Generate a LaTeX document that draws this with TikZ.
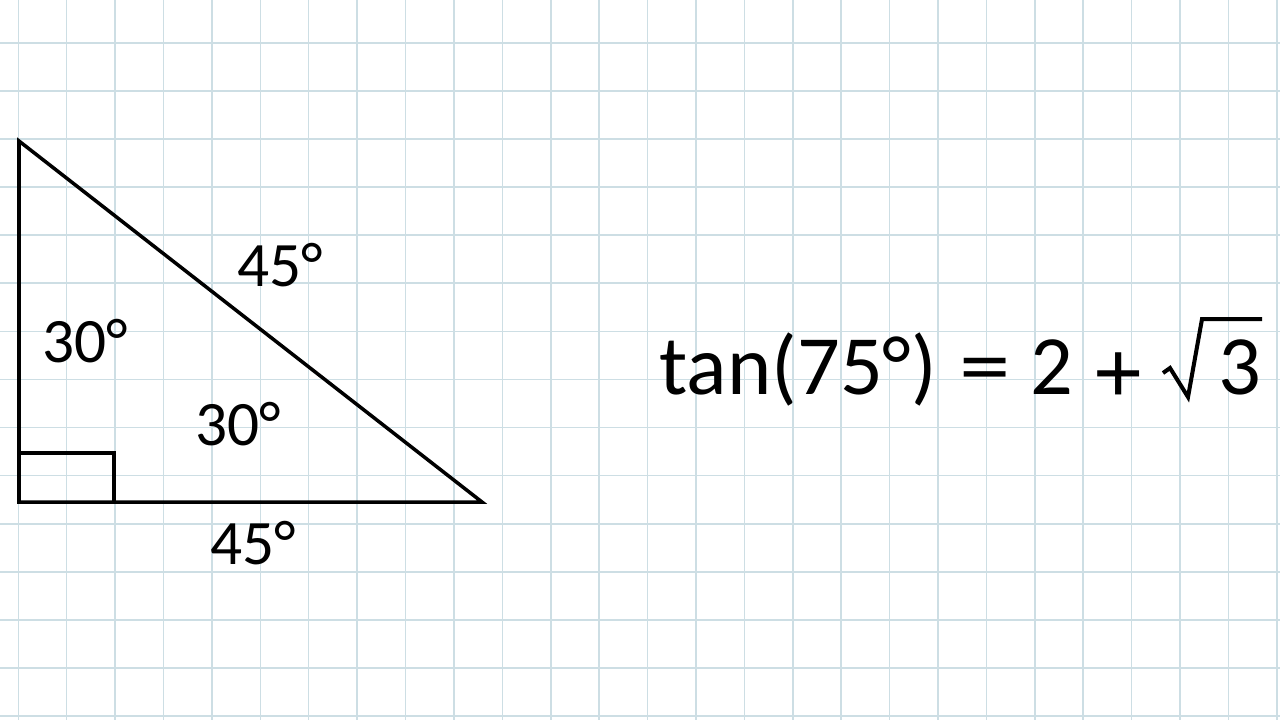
\documentclass[tikz,border=0pt]{standalone}
\usepackage{fontspec}
\setmainfont{Carlito}
\newfontfamily\plusfont{Liberation Sans}
\definecolor{paper}{RGB}{205,222,228}
\tikzset{
  gridline/.style = {color=paper, line width=0.45pt},
  edge/.style = {black, line width=1pt, line join=miter},
  angle/.style = {anchor=base, inner sep=0pt, font=\fontsize{18}{20}\selectfont},
  formula/.style = {anchor=base, inner sep=0pt, font=\fontsize{24}{27}\selectfont}
}

\begin{document}
\begin{tikzpicture}[x=0.01cm, y=-0.01cm]
	\def \gx{48.4}
	\def \gy{48.1}
	\def \ox{18.3}
	\def \oy{42.7}

	\useasboundingbox (0,0) rectangle (1280,720);
	\fill[white] (0,0) rectangle (1280,720);

	% Grid, vertical
	\draw[gridline] (\ox+0*\gx,0) -- (\ox+0*\gx,720);
	\draw[gridline] (\ox+1*\gx,0) -- (\ox+1*\gx,720);
	\draw[gridline] (\ox+2*\gx,0) -- (\ox+2*\gx,720);
	\draw[gridline] (\ox+3*\gx,0) -- (\ox+3*\gx,720);
	\draw[gridline] (\ox+4*\gx,0) -- (\ox+4*\gx,720);
	\draw[gridline] (\ox+5*\gx,0) -- (\ox+5*\gx,720);
	\draw[gridline] (\ox+6*\gx,0) -- (\ox+6*\gx,720);
	\draw[gridline] (\ox+7*\gx,0) -- (\ox+7*\gx,720);
	\draw[gridline] (\ox+8*\gx,0) -- (\ox+8*\gx,720);
	\draw[gridline] (\ox+9*\gx,0) -- (\ox+9*\gx,720);
	\draw[gridline] (\ox+10*\gx,0) -- (\ox+10*\gx,720);
	\draw[gridline] (\ox+11*\gx,0) -- (\ox+11*\gx,720);
	\draw[gridline] (\ox+12*\gx,0) -- (\ox+12*\gx,720);
	\draw[gridline] (\ox+13*\gx,0) -- (\ox+13*\gx,720);
	\draw[gridline] (\ox+14*\gx,0) -- (\ox+14*\gx,720);
	\draw[gridline] (\ox+15*\gx,0) -- (\ox+15*\gx,720);
	\draw[gridline] (\ox+16*\gx,0) -- (\ox+16*\gx,720);
	\draw[gridline] (\ox+17*\gx,0) -- (\ox+17*\gx,720);
	\draw[gridline] (\ox+18*\gx,0) -- (\ox+18*\gx,720);
	\draw[gridline] (\ox+19*\gx,0) -- (\ox+19*\gx,720);
	\draw[gridline] (\ox+20*\gx,0) -- (\ox+20*\gx,720);
	\draw[gridline] (\ox+21*\gx,0) -- (\ox+21*\gx,720);
	\draw[gridline] (\ox+22*\gx,0) -- (\ox+22*\gx,720);
	\draw[gridline] (\ox+23*\gx,0) -- (\ox+23*\gx,720);
	\draw[gridline] (\ox+24*\gx,0) -- (\ox+24*\gx,720);
	\draw[gridline] (\ox+25*\gx,0) -- (\ox+25*\gx,720);
	\draw[gridline] (\ox+26*\gx,0) -- (\ox+26*\gx,720);

	% Grid, horizontal
	\draw[gridline] (0,\oy+0*\gy) -- (1280,\oy+0*\gy);
	\draw[gridline] (0,\oy+1*\gy) -- (1280,\oy+1*\gy);
	\draw[gridline] (0,\oy+2*\gy) -- (1280,\oy+2*\gy);
	\draw[gridline] (0,\oy+3*\gy) -- (1280,\oy+3*\gy);
	\draw[gridline] (0,\oy+4*\gy) -- (1280,\oy+4*\gy);
	\draw[gridline] (0,\oy+5*\gy) -- (1280,\oy+5*\gy);
	\draw[gridline] (0,\oy+6*\gy) -- (1280,\oy+6*\gy);
	\draw[gridline] (0,\oy+7*\gy) -- (1280,\oy+7*\gy);
	\draw[gridline] (0,\oy+8*\gy) -- (1280,\oy+8*\gy);
	\draw[gridline] (0,\oy+9*\gy) -- (1280,\oy+9*\gy);
	\draw[gridline] (0,\oy+10*\gy) -- (1280,\oy+10*\gy);
	\draw[gridline] (0,\oy+11*\gy) -- (1280,\oy+11*\gy);
	\draw[gridline] (0,\oy+12*\gy) -- (1280,\oy+12*\gy);
	\draw[gridline] (0,\oy+13*\gy) -- (1280,\oy+13*\gy);
	\draw[gridline] (0,\oy+14*\gy) -- (1280,\oy+14*\gy);

	% Triangle
	\coordinate (top) at (19,141);
	\coordinate (corner) at (19,502);
	\coordinate (tip) at (482,502);
	\draw[edge] (top) -- (corner) -- (tip) -- cycle;
	\draw[edge] (19,453) -| (114,502); % right angle

	% Angles
	\node[angle] (hypLabel) at (280.5,286.7) {45°};
	\node[angle] (legLabel) at (85,362.7) {30°};
	\node[angle] (midLabel) at (238,445) {30°};
	\node[angle] (baseLabel) at (253.3,564) {45°};

	% Result
	\node[formula, anchor=base west] (lhs) at (659,394) {tan(75°)};
	\node[formula] (eqSign) at (985,394) {\scalebox{1.22}[1]{=}};
	\node[formula] (two) at (1052,394) {2};
	\node[formula, font=\fontsize{24.5}{27}\plusfont] (plus) at (1118.5,402) {+};
	\node[formula] (radicand) at (1240,394) {3};
	\draw[edge, line width=1.15pt] (1163,373) -- (1170,368) -- (1188,397) -- (1202,319) -- (1262,319); % root

\end{tikzpicture}
\end{document}
